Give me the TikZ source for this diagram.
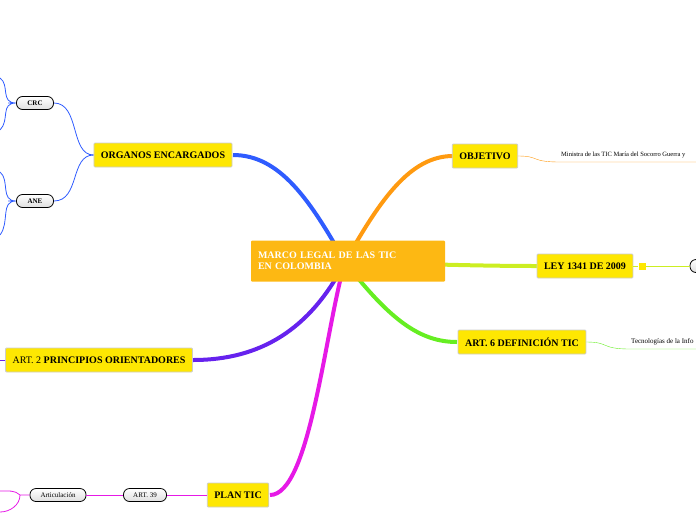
\documentclass[tikz,border=0pt]{standalone}
\usepackage{fontspec}
\setmainfont{Liberation Serif}
\begin{document}
\begin{tikzpicture}[x=1pt,y=-1pt,
  main/.style={fill=yellow!90!orange,draw=gray!40,line width=0.8pt,font=\bfseries\fontsize{10}{12}\selectfont,minimum height=24pt,inner xsep=7pt,rounded corners=1pt},
  pill/.style={draw=black,line width=0.8pt,rounded corners=6pt,top color=white,bottom color=gray!25,font=\fontsize{7}{8}\selectfont,minimum height=13pt,inner xsep=8pt,inner ysep=1pt},
  leaf/.style={font=\fontsize{6.5}{8}\selectfont,anchor=west,inner sep=1pt}]
\useasboundingbox (0,0) rectangle (696,520);
\definecolor{cen}{HTML}{FDB813}
\definecolor{bl}{HTML}{2F5CFF}
\definecolor{mg}{HTML}{E619E6}
\definecolor{gr}{HTML}{66EE22}
\definecolor{yg}{HTML}{CCEE22}
\definecolor{og}{HTML}{FF9A10}
\definecolor{pu}{HTML}{6622EE}
\coordinate (hub) at (345,262);
% branches
\draw[bl,line width=4pt] (hub) ..controls (310,200) and (280,155).. (233,155);
\draw[og,line width=4pt] (hub) ..controls (380,200) and (410,156).. (453,156);
\draw[yg,line width=4pt] (hub) ..controls (420,264) and (480,266).. (537,266);
\draw[gr,line width=4pt] (hub) ..controls (390,320) and (420,342).. (457,342);
\draw[pu,line width=4pt] (hub) ..controls (310,330) and (260,360).. (193,360);
\draw[mg,line width=4pt] (hub) ..controls (325,330) and (310,495).. (270,495);
\node[fill=cen,text=white,font=\bfseries\fontsize{10}{11}\selectfont,align=left,minimum width=194pt,minimum height=41pt,inner xsep=6pt,text width=180pt,rounded corners=1pt] (c) at (348,261) {MARCO LEGAL DE LAS TIC\\EN COLOMBIA};
\node[main] (org) at (163,155) {ORGANOS ENCARGADOS};
\node[main] (obj) at (485,156) {OBJETIVO};
\node[main] (ley) at (585,266) {LEY 1341 DE 2009};
\node[main] (a6) at (522,342) {ART. 6 DEFINICIÓN TIC};
\node[main] (a2) at (99,360) {\mdseries ART. 2 \bfseries PRINCIPIOS ORIENTADORES};
\node[main] (plan) at (238,495) {PLAN TIC};
\node[pill,font=\bfseries\fontsize{7}{8}\selectfont,minimum width=37pt] (crc) at (35,103) {CRC};
\node[pill,font=\bfseries\fontsize{7}{8}\selectfont,minimum width=37pt] (ane) at (35,201) {ANE};
\node[pill,minimum width=43pt] (a39) at (145,495) {ART. 39};
\node[pill,minimum width=56pt] (art) at (58,495) {Articulación};
\node[pill,minimum width=20pt] (lp) at (700,266) {};
\node[fill=yellow!90!orange,minimum size=7pt,inner sep=0pt] (ic) at (642,266) {};
\coordinate (a2l) at (0,360);
% sub connectors
\draw[pu,thick] (a2.west) -- (a2l);
\draw[bl,thick] (org.west) ..controls (70,155) and (80,103).. (crc.east);
\draw[bl,thick] (org.west) ..controls (70,155) and (80,201).. (ane.east);
\draw[bl,thick] (crc.west) -- (8,103) (crc.west) ..controls (0,103) and (10,85).. (0,78) (crc.west) ..controls (0,103) and (10,120).. (0,130);
\draw[bl,thick] (ane.west) -- (8,201) (ane.west) ..controls (0,201) and (10,180).. (0,172) (ane.west) ..controls (0,201) and (10,222).. (0,235);
\draw[mg,thick] (plan.west) -- (a39.east) (a39.west) -- (art.east);
\draw[mg,thick] (art.west) -- (20,495) ..controls (15,490) and (8,491).. (0,491) (20,495) ..controls (20,505) and (10,512).. (0,512);
\draw[og,thin] (obj.east) ..controls (540,156) and (530,162).. (560,162) -- (696,162);
\node[leaf] (l1) at (560,155) {Ministra de las TIC María del Socorro Guerra y};
\draw[yg,thin] (ley.east) -- (ic.west) (ic.east) -- (lp.west);
\draw[gr,thin] (a6.east) ..controls (610,342) and (600,349).. (630,349) -- (696,349);
\node[leaf,font=\fontsize{7}{8}\selectfont] (l2) at (630,342) {Tecnologías de la Info};
\end{tikzpicture}
\end{document}
